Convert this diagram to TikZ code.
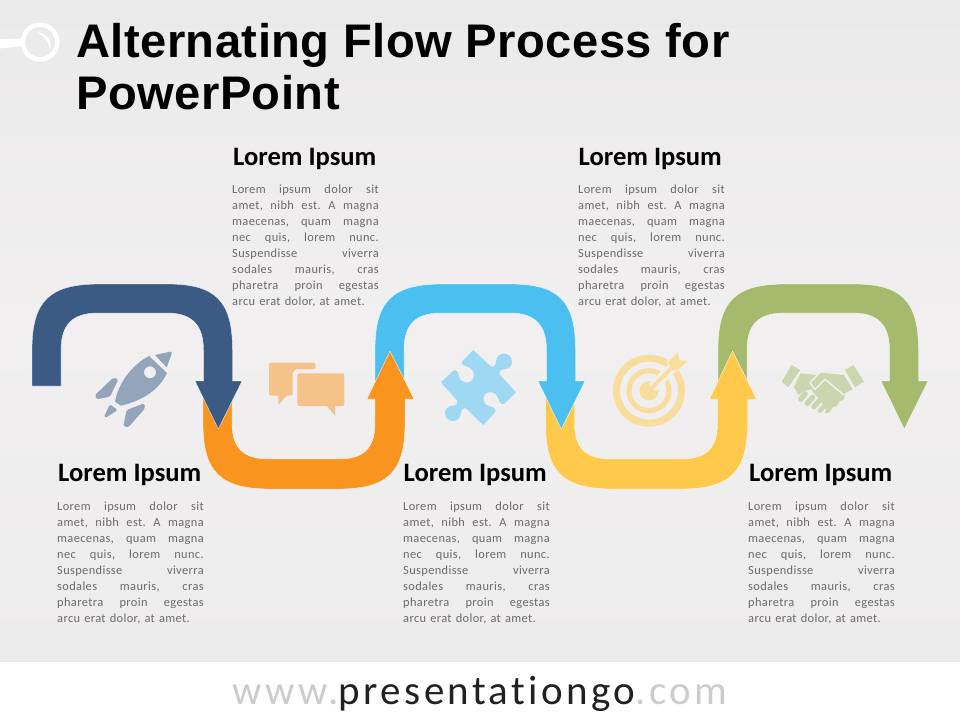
\documentclass[tikz,border=0pt]{standalone}
\usepackage{fontspec}
\setmainfont{Carlito}
\newfontfamily\titlefont[LetterSpace=1.0]{Liberation Sans}
\newfontfamily\bodyfont[LetterSpace=3]{Carlito}
\newfontfamily\footfont[LetterSpace=8.2,Ligatures=NoCommon]{Carlito}
\definecolor{bgmid}{HTML}{F1EFF0}
\definecolor{bgtop}{HTML}{EBEAEB}
\definecolor{bgbot}{HTML}{EDECED}
\definecolor{cblue}{HTML}{3B5B84}
\definecolor{corange}{HTML}{F9951F}
\definecolor{clight}{HTML}{4BBFF0}
\definecolor{cyellow}{HTML}{FFC94B}
\definecolor{cgreen}{HTML}{A5BA6C}
\definecolor{irocket}{HTML}{93A5BB}
\definecolor{ibubble}{HTML}{F5C28A}
\definecolor{ipuzzle}{HTML}{9ED8F3}
\definecolor{itarget}{HTML}{F9DD9C}
\definecolor{ihand}{HTML}{CBD6AE}
\tikzset{
  px/.style={x=1pt,y=-1pt},
  band/.style={draw=white,line width=.3pt,line join=miter},
  headtxt/.style={anchor=base west,inner sep=0pt,font=\bfseries\fontsize{26.6}{30}\selectfont,text=black},
  bodytxt/.style={anchor=north west,inner sep=0pt,text width=147pt,align=left,font=\bodyfont\fontsize{12.4}{16}\selectfont,text=black!58},
  titletxt/.style={anchor=base west,inner sep=0pt,font=\titlefont\bfseries\fontsize{47.15}{51.5}\selectfont,text=black},
}
\newcommand{\jline}[1]{\leavevmode\hbox to 146.5pt{#1}}
\newcommand{\loremtext}{\jline{Lorem\hfill ipsum\hfill dolor\hfill sit}\\\jline{amet,\hfill nibh\hfill est.\hfill A\hfill magna}\\\jline{maecenas,\hfill quam\hfill magna}\\\jline{nec\hfill quis,\hfill lorem\hfill nunc.}\\\jline{Suspendisse\hfill viverra}\\\jline{sodales\hfill mauris,\hfill cras}\\\jline{pharetra\hfill proin\hfill egestas}\\arcu erat dolor, at amet.}
\newcommand{\archarrow}[3]{%
 \fill[#3,band,shift={(#1,0)}] (0,#2) -- (0,350) .. controls (0,300) and (18,284) .. (68,284) -- (135,284) .. controls (183,284) and (200.5,300) .. (200.5,350) -- (200.5,381) -- (210,381) -- (186.3,429) -- (163,381) -- (171.5,381) -- (171.5,350) .. controls (171.5,325) and (160,313) .. (135,313) -- (66,313) .. controls (40,313) and (29,325) .. (29,350) -- (29,#2) -- cycle;}
\newcommand{\cuparrow}[2]{%
 \fill[#2,band,shift={(#1,0)}] (0,392) -- (0,423) .. controls (0,473) and (18,489) .. (68,489) -- (135,489) .. controls (184,489) and (202,473) .. (202,423) -- (202,399) -- (211,399) -- (187,351) -- (164,399) -- (172,399) -- (172,423) .. controls (172,448) and (161,459) .. (136,459) -- (66,459) .. controls (40,459) and (29,448) .. (29,423) -- (29,392) -- cycle;}
\begin{document}
\begin{tikzpicture}[px]
\useasboundingbox (0,0) rectangle (960,720);
\fill[white] (0,0) rectangle (960,720);
\shade[top color=bgtop,bottom color=bgbot,middle color=bgmid] (0,0) rectangle (960,661);
% title ornament
\fill[white] (0,39) -- (24,38.5) -- (24,46) -- (0,48.5) -- cycle;
\draw[white,line width=4.6pt] (40,42) circle (17.3);
\fill[white] (35,32.5) .. controls (45,31.5) and (53,40) .. (50,50) .. controls (50,42) and (44,35) .. (35,32.5) -- cycle;
% arrows, back to front
\archarrow{718}{390}{cgreen}
\cuparrow{545.5}{cyellow}
\archarrow{375}{392}{clight}
\cuparrow{203}{corange}
\archarrow{32}{386}{cblue}
% rocket
\fill[irocket] (155,355) -- (170,351.7) .. controls (172,351.5) and (172,353) .. (171.7,353.5) -- (166.7,367.3) -- cycle;
\fill[irocket,even odd rule] (149,356) -- (167,373) .. controls (158,392) and (140,401) .. (121,405.7) -- (115,401.7) .. controls (118,385) and (130,366) .. (149,356) -- cycle (150,372.3) circle (6);
\fill[irocket,rounded corners=1.5pt] (113.3,377.7) -- (118.3,379.3) -- (110,396.7) -- (96.7,399.3) -- (95,395) -- cycle;
\fill[irocket,rounded corners=1.5pt] (110,404.3) -- (117.7,410) -- (105.7,417.7) -- (104,416.7) -- cycle;
\fill[irocket,rounded corners=1.5pt] (144.3,403.3) -- (145,408.3) -- (128.3,427.3) -- (123.3,426) -- (126.7,410) -- cycle;
% speech bubbles
\fill[ibubble,rounded corners=2pt] (269,362.7) -- (315.7,362.7) -- (315.7,369.3) -- (298.3,369.3) .. controls (295,369.3) and (292.7,372) .. (292.7,375) -- (292.7,395.7) -- (287.3,395.7) -- (269,395.7) -- cycle;
\fill[ibubble] (278.3,395) -- (278.3,405) -- (287.3,395) -- cycle;
\fill[ibubble,rounded corners=2pt] (297.3,373.3) rectangle (344.3,406);
\fill[ibubble] (326,405) -- (335,405) -- (335,415.7) -- cycle;
% puzzle
\begin{scope}[shift={(430,340)},x=.3333pt,y=-.3333pt]
\fill[ipuzzle] (130,30) -- (183,80) .. controls (192,82) and (198,75) .. (198,65) .. controls (198,50) and (210,41) .. (222,41) .. controls (236,41) and (246,52) .. (246,65) .. controls (246,80) and (235,88) .. (222,88) .. controls (212,88) and (205,95) .. (208,102) -- (258,157) -- (222,192) .. controls (212,195) and (208,185) .. (205,175) .. controls (200,158) and (180,152) .. (168,160) .. controls (155,170) and (158,195) .. (178,198) .. controls (190,200) and (200,208) .. (195,217) -- (160,255) -- (108,205) .. controls (98,203) and (92,212) .. (92,220) .. controls (92,235) and (80,243) .. (68,243) .. controls (55,243) and (45,232) .. (45,220) .. controls (45,205) and (58,197) .. (68,197) .. controls (78,197) and (85,190) .. (82,182) -- (33,127) -- (70,92) .. controls (80,88) and (85,97) .. (87,108) .. controls (92,130) and (115,133) .. (127,120) .. controls (140,105) and (128,85) .. (112,80) .. controls (100,77) and (93,72) .. (97,64) -- cycle;
\end{scope}
% target
\draw[itarget,line width=7pt] (649,390.7) circle (32.5);
\draw[itarget,line width=5pt] (649,390.7) circle (20);
\fill[itarget] (649,390.7) circle (9.5);
\draw[bgmid,line width=10pt] (652,387.7) -- (672,367.7);
\fill[itarget,draw=bgmid,line width=2.5pt,line join=round] (668.3,362.3) -- (677.7,352.3) -- (679,360) -- (687.7,361) -- (677.7,370) -- (672,370) -- cycle;
\fill[itarget] (668.3,362.3) -- (677.7,352.3) -- (679,360) -- (687.7,361) -- (677.7,370) -- (672,370) -- cycle;
\draw[itarget,line width=4pt] (649,390.7) -- (673,366.7);
% handshake
\begin{scope}[shift={(770,350)},x=.3333pt,y=-.3333pt]
\fill[ihand] (65,45) -- (90,60) -- (55,112) -- (35,95) -- cycle;
\fill[ihand] (250,45) -- (282,95) -- (255,112) -- (225,60) -- cycle;
\fill[ihand] (92,70) -- (140,75) -- (120,100) -- (125,118) -- (105,122) -- (85,135) -- (72,110) -- cycle;
\fill[ihand] (152,68) -- (222,75) -- (248,118) -- (225,130) -- (222,148) -- (208,155) -- (200,168) -- (188,172) -- (178,188) -- (165,190) -- (168,178) -- (150,150) -- (128,125) -- (118,98) -- cycle;
\draw[bgmid,line width=1.5pt,line join=round] (152,65) -- (120,98) -- (135,118) -- (165,88) -- (222,135);
\draw[ihand,line width=5.2pt,line cap=round] (92,148) -- (106,131);
\draw[ihand,line width=5.2pt,line cap=round] (112,160) -- (128,142);
\draw[ihand,line width=5.2pt,line cap=round] (132,170) -- (147,153);
\draw[ihand,line width=4.5pt,line cap=round] (150,182) -- (163,168);
\end{scope}
% title
\node[titletxt] (title1) at (76,57.5) {Alternating Flow Process for};
\node[titletxt] (title2) at (76,109) {PowerPoint};
% headings and bodies
\node[headtxt] (h1) at (58,481.7) {Lorem Ipsum};
\node[bodytxt] (b1) at (57,501.3) {\loremtext};
\node[headtxt] (h2) at (233,165) {Lorem Ipsum};
\node[bodytxt] (b2) at (232,184.3) {\loremtext};
\node[headtxt] (h3) at (403.5,481.7) {Lorem Ipsum};
\node[bodytxt] (b3) at (403,501.3) {\loremtext};
\node[headtxt] (h4) at (578.5,165) {Lorem Ipsum};
\node[bodytxt] (b4) at (578,184.3) {\loremtext};
\node[headtxt] (h5) at (749,481.7) {Lorem Ipsum};
\node[bodytxt] (b5) at (748,501.3) {\loremtext};
% footer
\node[anchor=base,inner sep=0pt,font=\footfont\fontsize{41}{44}\selectfont,text=black!20] (foot) at (480,704) {www.\textcolor{black!87}{presentationgo}.com};
\end{tikzpicture}
\end{document}
